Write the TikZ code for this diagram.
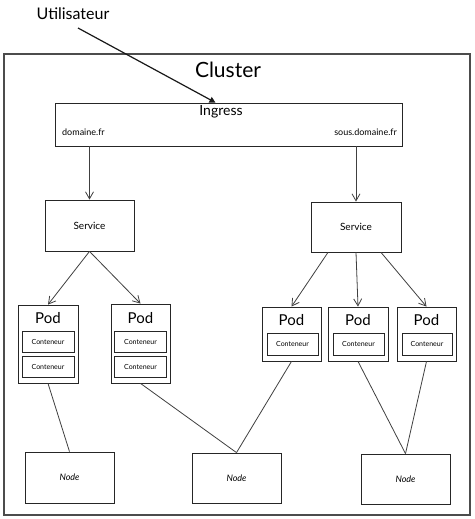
\documentclass[tikz,border=0pt]{standalone}
\usepackage{fontspec}
\setmainfont{Lato}
\usetikzlibrary{arrows.meta}
\begin{document}
\begin{tikzpicture}[x=1pt,y=-1pt,
  box/.style={draw=black!85, line width=0.8pt, inner sep=0pt},
  conn/.style={draw=black!75, line width=0.8pt},
  arr/.style={conn, -{Straight Barb[length=7pt,width=8pt]}},
  txt/.style={inner sep=0pt}]
\useasboundingbox (0,0) rectangle (474,519);
\fill[white] (0,0) rectangle (474,519);
% cluster
\node[draw=black!70, line width=1.6pt, minimum width=466pt, minimum height=461pt, inner sep=0pt] (cluster) at (237,284.5) {};
\node[txt, font=\fontsize{21}{24}\selectfont] (clusterlbl) at (228,70) {Cluster};
% user
\node[txt, font=\fontsize{16}{18}\selectfont] (user) at (73,14) {Utilisateur};
\coordinate (userstart) at (78,28);
% ingress
\node[box, minimum width=347pt, minimum height=43pt] (ingress) at (228.5,124.5) {};
\node[txt, font=\fontsize{14}{16}\selectfont] (ingresslbl) at (221,112) {Ingress};
\node[txt, anchor=west, font=\fontsize{9}{11}\selectfont] (dom) at (62,132) {domaine.fr};
\node[txt, anchor=east, font=\fontsize{9}{11}\selectfont] (sousdom) at (397,132) {sous.domaine.fr};
\draw[draw=black!90, line width=1.2pt, -{Triangle[length=6pt,width=6pt]}] (userstart) -- ([xshift=-13pt]ingress.north);
% services
\node[box, minimum width=89pt, minimum height=51pt, font=\fontsize{10}{12}\selectfont] (svcL) at (89.5,225.5) {Service};
\node[box, minimum width=90pt, minimum height=50pt, font=\fontsize{10}{12}\selectfont] (svcR) at (356,227) {Service};
\draw[arr] (ingress.south -| svcL.north) -- (svcL.north);
\draw[arr] (ingress.south -| svcR.north) -- (svcR.north);
% pods left
\tikzset{podlbl/.style={txt, font=\fontsize{15}{16}\selectfont},
  cont/.style={box, minimum width=52pt, minimum height=21pt, font=\fontsize{7}{8}\selectfont}}
\node[box, minimum width=60pt, minimum height=78pt] (pod1) at (48,344) {};
\node[podlbl] (pod1l) at (48,318) {Pod};
\node[cont] (c1a) at (48,341.5) {Conteneur};
\node[cont] (c1b) at (48,366.5) {Conteneur};
\node[box, minimum width=59pt, minimum height=79pt] (pod2) at (140.5,343.5) {};
\node[podlbl] (pod2l) at (140.5,318) {Pod};
\node[cont] (c2a) at (140.5,341.5) {Conteneur};
\node[cont] (c2b) at (140.5,366.5) {Conteneur};
% pods right
\node[box, minimum width=59pt, minimum height=54pt] (pod3) at (291.5,334) {};
\node[podlbl] (pod3l) at (291.5,320) {Pod};
\node[cont, minimum width=51pt, minimum height=22pt] (c3) at (292.5,344) {Conteneur};
\node[box, minimum width=60pt, minimum height=54pt] (pod4) at (358,334) {};
\node[podlbl] (pod4l) at (358,320) {Pod};
\node[cont, minimum width=51pt, minimum height=22pt] (c4) at (358.5,344) {Conteneur};
\node[box, minimum width=59pt, minimum height=54pt] (pod5) at (426.5,334) {};
\node[podlbl] (pod5l) at (426.5,320) {Pod};
\node[cont, minimum width=50pt, minimum height=22pt] (c5) at (427,344) {Conteneur};
% service -> pods
\draw[arr] (svcL.south) -- (pod1.north);
\draw[arr] (svcL.south) -- (pod2.north);
\draw[arr] ([xshift=-28pt]svcR.south) -- (pod3.north);
\draw[arr] (svcR.south) -- (pod4.north);
\draw[arr] ([xshift=25pt]svcR.south) -- (pod5.north);
% nodes
\tikzset{knode/.style={box, minimum width=89pt, minimum height=50pt, font=\itshape\fontsize{9}{11}\selectfont}}
\node[knode, minimum height=51pt] (n1) at (69.5,477.5) {Node};
\node[knode] (n2) at (236.5,478) {Node};
\node[knode] (n3) at (405.5,479) {Node};
\draw[conn] (pod1.south) -- (n1.north);
\draw[conn] (pod2.south) -- (n2.north);
\draw[conn] (pod3.south) -- (n2.north);
\draw[conn] (pod4.south) -- (n3.north);
\draw[conn] (pod5.south) -- (n3.north);
\end{tikzpicture}
\end{document}
